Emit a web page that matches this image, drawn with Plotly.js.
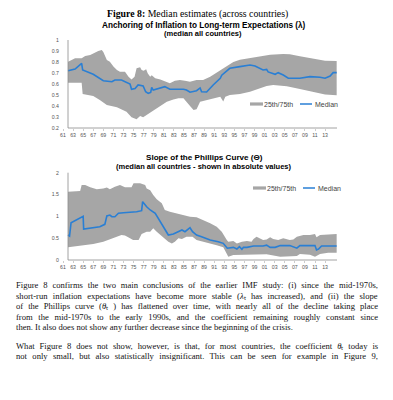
<!DOCTYPE html>
<html><head><meta charset="utf-8">
<script src="https://cdn.plot.ly/plotly-3.0.1.min.js"></script>
<style>html,body{margin:0;padding:0;background:#fff}#chart{width:393px;height:400px}</style>
</head><body><div id="chart"></div>
<script>
// ---- Tick labels ----
const tickYears = [1961,1963,1965,1967,1969,1971,1973,1975,1977,1979,1981,1983,1985,1987,1989,1991,1993,1995,1997,1999,2001,2003,2005,2007,2009,2011,2013];
const tickLabels = ["61","63","65","67","69","71","73","75","77","79","81","83","85","87","89","91","93","95","97","99","01","03","05","07","09","11","13"];

// ---- Chart 1: Anchoring of inflation (lambda) ----
const lamMedYear = [1962.0,1963.4,1964.7,1964.9,1967.0,1969.0,1970.7,1971.3,1972.6,1973.5,1974.3,1974.6,1975.3,1975.9,1976.9,1977.4,1977.9,1978.4,1978.6,1978.9,1980.2,1981.2,1982.2,1983.6,1984.9,1985.5,1986.2,1987.5,1988.2,1988.5,1989.5,1990.8,1992.2,1992.5,1994.1,1996.1,1998.1,1999.1,2000.7,2001.4,2001.7,2003.1,2003.7,2004.7,2005.7,2008.0,2010.0,2012.0,2013.0,2014.0,2014.6,2015.3];
const lamMed = [0.72,0.736,0.788,0.727,0.688,0.63,0.621,0.636,0.636,0.618,0.6,0.552,0.559,0.591,0.582,0.53,0.515,0.523,0.57,0.545,0.561,0.576,0.552,0.555,0.552,0.545,0.525,0.539,0.564,0.53,0.527,0.591,0.652,0.68,0.743,0.758,0.773,0.764,0.727,0.733,0.71,0.688,0.703,0.682,0.652,0.652,0.667,0.661,0.652,0.673,0.703,0.703];
const lamHiYear = [1962.0,1962.4,1963.0,1963.4,1964.7,1965.4,1966.4,1967.0,1968.0,1968.7,1969.0,1969.7,1970.3,1971.0,1971.7,1972.3,1973.3,1974.0,1974.6,1975.2,1975.6,1976.3,1976.6,1977.0,1977.5,1977.8,1978.3,1978.6,1979.3,1980.3,1981.3,1982.2,1983.2,1984.2,1985.2,1986.2,1987.5,1988.8,1990.2,1991.5,1992.8,1994.1,1994.8,1996.1,1998.1,2000.1,2002.1,2004.7,2005.4,2006.0,2008.0,2010.0,2011.3,2013.0,2015.3];
const lamHi = [0.803,0.81,0.825,0.833,0.833,0.855,0.864,0.879,0.9,0.909,0.89,0.818,0.803,0.758,0.727,0.712,0.712,0.667,0.642,0.667,0.743,0.752,0.727,0.72,0.733,0.697,0.667,0.68,0.652,0.642,0.621,0.606,0.63,0.636,0.63,0.621,0.636,0.636,0.667,0.703,0.743,0.78,0.8,0.82,0.835,0.852,0.865,0.873,0.874,0.87,0.852,0.835,0.82,0.812,0.81];
const lamLoYear = [1962.0,1964.7,1964.9,1967.0,1968.3,1969.7,1971.7,1973.6,1974.6,1975.6,1976.3,1976.9,1977.6,1979.0,1980.3,1981.6,1982.9,1983.9,1984.9,1985.5,1986.2,1986.9,1987.5,1988.2,1989.5,1990.8,1992.2,1992.8,1993.2,1994.1,1996.1,1998.1,2000.1,2001.4,2002.7,2005.4,2008.0,2011.3,2013.0,2015.3];
const lamLo = [0.612,0.612,0.51,0.49,0.455,0.41,0.388,0.348,0.297,0.279,0.309,0.297,0.318,0.36,0.4,0.439,0.46,0.47,0.47,0.439,0.4,0.364,0.37,0.439,0.455,0.47,0.485,0.44,0.485,0.5,0.51,0.53,0.56,0.582,0.59,0.58,0.555,0.52,0.505,0.497];

// ---- Chart 2: Slope of the Phillips curve (theta) ----
const thMedYear = [1962.0,1962.3,1962.6,1963.7,1964.7,1965.0,1965.1,1966.0,1967.0,1968.3,1969.3,1969.7,1970.3,1970.7,1971.3,1972.0,1973.0,1974.3,1975.6,1976.6,1976.8,1977.6,1978.3,1979.3,1980.3,1981.3,1981.9,1982.9,1983.9,1984.6,1985.2,1986.2,1986.7,1987.5,1988.5,1990.2,1991.8,1992.8,1993.6,1994.8,1995.5,1996.0,1996.5,1996.8,1997.5,1998.8,2000.7,2001.4,2002.1,2003.1,2004.1,2006.0,2007.4,2008.0,2011.0,2011.3,2011.7,2012.3,2015.3];
const thMed = [0.573,0.55,0.855,0.916,0.978,1.0,0.71,0.725,0.74,0.763,0.817,1.008,1.03,0.992,0.99,1.07,1.084,1.09,1.107,1.13,1.336,1.22,1.146,1.07,0.878,0.687,0.573,0.596,0.649,0.687,0.649,0.74,0.65,0.573,0.534,0.458,0.42,0.382,0.27,0.29,0.25,0.305,0.245,0.29,0.29,0.32,0.32,0.34,0.29,0.29,0.33,0.33,0.27,0.33,0.33,0.23,0.25,0.32,0.32];
const thHiYear = [1962.0,1964.4,1964.7,1965.4,1966.4,1967.7,1969.0,1969.7,1970.3,1971.3,1972.3,1973.3,1974.6,1975.0,1976.3,1977.3,1977.6,1978.3,1978.9,1979.6,1980.6,1981.2,1982.2,1983.6,1984.9,1986.2,1987.5,1988.8,1990.2,1991.5,1992.5,1993.5,1993.8,1994.8,1995.5,1996.5,1997.5,1998.4,1998.8,1999.4,2000.1,2000.7,2001.4,2002.1,2002.7,2003.7,2004.7,2006.0,2006.7,2007.4,2008.7,2010.0,2011.0,2011.3,2012.0,2013.6,2015.3];
const thHi = [1.565,1.58,1.72,1.72,1.665,1.62,1.64,1.66,1.62,1.68,1.72,1.665,1.665,1.76,1.757,1.72,1.64,1.6,1.49,1.39,1.3,1.146,1.107,1.07,1.03,0.992,0.978,0.916,0.84,0.763,0.65,0.458,0.42,0.435,0.38,0.42,0.435,0.42,0.48,0.534,0.497,0.458,0.47,0.52,0.48,0.458,0.497,0.458,0.47,0.534,0.573,0.573,0.596,0.52,0.573,0.59,0.596];
const thLoYear = [1962.0,1963.7,1965.0,1967.0,1969.0,1970.3,1971.7,1972.6,1973.3,1974.3,1974.9,1976.0,1976.6,1977.6,1978.3,1978.9,1979.6,1980.3,1981.2,1981.9,1982.6,1983.2,1983.9,1984.6,1985.5,1986.7,1987.5,1988.8,1990.2,1991.5,1992.8,1993.5,1993.8,1994.8,1997.5,2001.4,2004.1,2007.4,2008.0,2010.0,2011.0,2012.0,2013.6,2015.3];
const thLo = [0.29,0.32,0.34,0.367,0.42,0.458,0.534,0.573,0.56,0.497,0.458,0.458,0.596,0.649,0.649,0.725,0.65,0.573,0.497,0.42,0.38,0.42,0.497,0.48,0.534,0.534,0.458,0.42,0.38,0.34,0.29,0.15,0.076,0.115,0.13,0.13,0.076,0.09,0.137,0.12,0.076,0.137,0.168,0.168];

// ---- Text ----
const figTitle = "<b>Figure 8:</b> Median estimates (across countries)";
const t1 = "Anchoring of Inflation to Long-term Expectations (λ)";
const s1 = "(median all countries)";
const t2 = "Slope of the Phillips Curve (Θ)";
const s2 = "(median all countries - shown in absolute values)";
const legBand = "25th/75th";
const legMed = "Median";
const paraLines = [
  "Figure 8 confirms the two main conclusions of the earlier IMF study: (i) since the mid-1970s,",
  "short-run inflation expectations have become more stable ({lam}ₜ has increased), and (ii) the slope",
  "of the Phillips curve ({th}ₜ ) has flattened over time, with nearly all of the decline taking place",
  "from the mid-1970s to the early 1990s, and the coefficient remaining roughly constant since",
  "then. It also does not show any further decrease since the beginning of the crisis.",
  "What Figure 8 does not show, however, is that, for most countries, the coefficient {th}ₜ today is",
  "not only small, but also statistically insignificant. This can be seen for example in Figure 9,"
];
const paraJustify = [true,true,true,true,false,true,true];

// ---- Layout helpers (pixel -> paper) ----
const W = 393, H = 400;
const px = v => v / W;
const py = v => 1 - v / H;
const PXPERYR = 5.04, X61 = 63, LEFT = 60, AXISPX = 68, RIGHT = 337;
const xr = [1961 - (X61 - LEFT) / PXPERYR, 1961 + (RIGHT - X61) / PXPERYR];
const xAxisStart = 1961 + (AXISPX - X61) / PXPERYR;
const bandColor = '#a6a6a6', medColor = '#2a7fd4', axisColor = '#8c8c8c';

function band(xh, yh, xl, yl, xa, ya) {
  return {x: xh.concat(xl.slice().reverse()), y: yh.concat(yl.slice().reverse()),
    xaxis: xa, yaxis: ya, mode: 'lines', fill: 'toself', fillcolor: bandColor,
    line: {width: 0, color: bandColor}, hoverinfo: 'skip'};
}
function med(x, y, xa, ya) {
  return {x: x, y: y, xaxis: xa, yaxis: ya, mode: 'lines', line: {color: medColor, width: 1.6}, hoverinfo: 'skip'};
}
const data = [
  band(lamHiYear, lamHi, lamLoYear, lamLo, 'x', 'y'), med(lamMedYear, lamMed, 'x', 'y'),
  band(thHiYear, thHi, thLoYear, thLo, 'x2', 'y2'), med(thMedYear, thMed, 'x2', 'y2')
];
const tickFont = {family: 'Liberation Sans, Arial', size: 5.2, color: '#555'};
function xax(anchor) {
  return {domain: [px(LEFT), px(RIGHT)], range: xr, anchor: anchor, tickvals: tickYears, ticktext: tickLabels,
    tickfont: tickFont, showgrid: false, zeroline: false, showline: false, ticks: 'outside', ticklen: 2,
    tickcolor: '#aaa', tickwidth: 0.6, fixedrange: true};
}
function yax(anchor, dom, rng, dt) {
  return {domain: dom, range: rng, anchor: anchor, dtick: dt, tick0: 0, tickfont: tickFont,
    showgrid: false, zeroline: false, showline: false, ticks: '', fixedrange: true};
}
const shapes = [], annotations = [];
function axisLines(xref, yref) {
  shapes.push({type: 'line', xref: xref, yref: yref + ' domain', x0: xAxisStart, x1: xAxisStart, y0: 0, y1: 1, line: {color: axisColor, width: 0.8}});
  shapes.push({type: 'line', xref: xref, yref: yref + ' domain', x0: xAxisStart, x1: xr[1], y0: 0, y1: 0, line: {color: axisColor, width: 0.8}});
}
axisLines('x', 'y'); axisLines('x2', 'y2');

function legend(x0, yc) {
  shapes.push({type: 'rect', xref: 'paper', yref: 'paper', x0: px(x0), x1: px(x0 + 13), y0: py(yc + 1.6), y1: py(yc - 1.6), fillcolor: bandColor, line: {width: 0}});
  annotations.push({xref: 'paper', yref: 'paper', x: px(x0 + 11.5), y: py(yc), xanchor: 'left', yanchor: 'middle', showarrow: false, text: legBand, font: {family: 'Liberation Sans, Arial', size: 7, color: '#444'}});
  shapes.push({type: 'line', xref: 'paper', yref: 'paper', x0: px(x0 + 50), x1: px(x0 + 62), y0: py(yc), y1: py(yc), line: {color: medColor, width: 1.5}});
  annotations.push({xref: 'paper', yref: 'paper', x: px(x0 + 62.5), y: py(yc), xanchor: 'left', yanchor: 'middle', showarrow: false, text: legMed, font: {family: 'Liberation Sans, Arial', size: 7, color: '#444'}});
}
legend(250, 104); legend(253, 188);

function title(text, xc, yc, size, fam, bold) {
  annotations.push({xref: 'paper', yref: 'paper', x: px(xc), y: py(yc), xanchor: 'center', yanchor: 'middle', showarrow: false,
    text: bold ? '<b>' + text + '</b>' : text, font: {family: fam, size: size, color: '#000'}});
}
title(figTitle, 197, 14, 9.8, 'Liberation Serif, Times New Roman', false);
title(t1, 203.5, 25, 8.2, 'Liberation Sans, Arial', true);
title(s1, 202.5, 34, 7.5, 'Liberation Sans, Arial', true);
title(t2, 204, 157.7, 8.1, 'Liberation Sans, Arial', true);
title(s2, 203.5, 166.7, 7.5, 'Liberation Sans, Arial', true);

// ---- Paragraph (justified through word-spacing) ----
const PSIZE = 8.6, PLEFT = 14, TEXTW = 362;
const paraY = [285, 295.5, 306, 316.5, 327, 345.5, 356];
const ctx = document.createElement('canvas').getContext('2d');
ctx.font = PSIZE + "px 'Liberation Serif'";
paraLines.forEach((ln, i) => {
  const plain = ln.replace('{lam}', 'λ').replace(/\{th\}/g, 'θ');
  const html = ln.replace('{lam}', '<span style="font-style:italic;font-size:' + PSIZE + 'px">λ</span>')
                 .replace(/\{th\}/g, '<span style="font-style:italic;font-size:' + PSIZE + 'px">θ</span>');
  let ws = 0;
  if (paraJustify[i]) {
    const w = ctx.measureText(plain).width;
    const n = (plain.match(/ /g) || []).length;
    ws = Math.max(0, (TEXTW - w) / n);
  }
  annotations.push({xref: 'paper', yref: 'paper', x: px(PLEFT), y: py(paraY[i]), xanchor: 'left', yanchor: 'middle', showarrow: false,
    text: '<span style="font-size:' + PSIZE + 'px;word-spacing:' + ws.toFixed(2) + 'px">' + html + '</span>',
    font: {family: 'Liberation Serif, Times New Roman', size: PSIZE, color: '#111'}});
});

const layout = {
  width: W, height: H, margin: {l: 0, r: 0, t: 0, b: 0}, paper_bgcolor: '#fff', plot_bgcolor: 'rgba(0,0,0,0)',
  showlegend: false,
  xaxis: xax('y'), yaxis: yax('x', [py(128), py(40)], [0.2, 1], 0.1),
  xaxis2: xax('y2'), yaxis2: yax('x2', [py(260), py(172.7)], [0, 2], 0.5),
  shapes: shapes, annotations: annotations
};
Plotly.newPlot('chart', data, layout, {staticPlot: true, displayModeBar: false});
</script>
</body></html>
